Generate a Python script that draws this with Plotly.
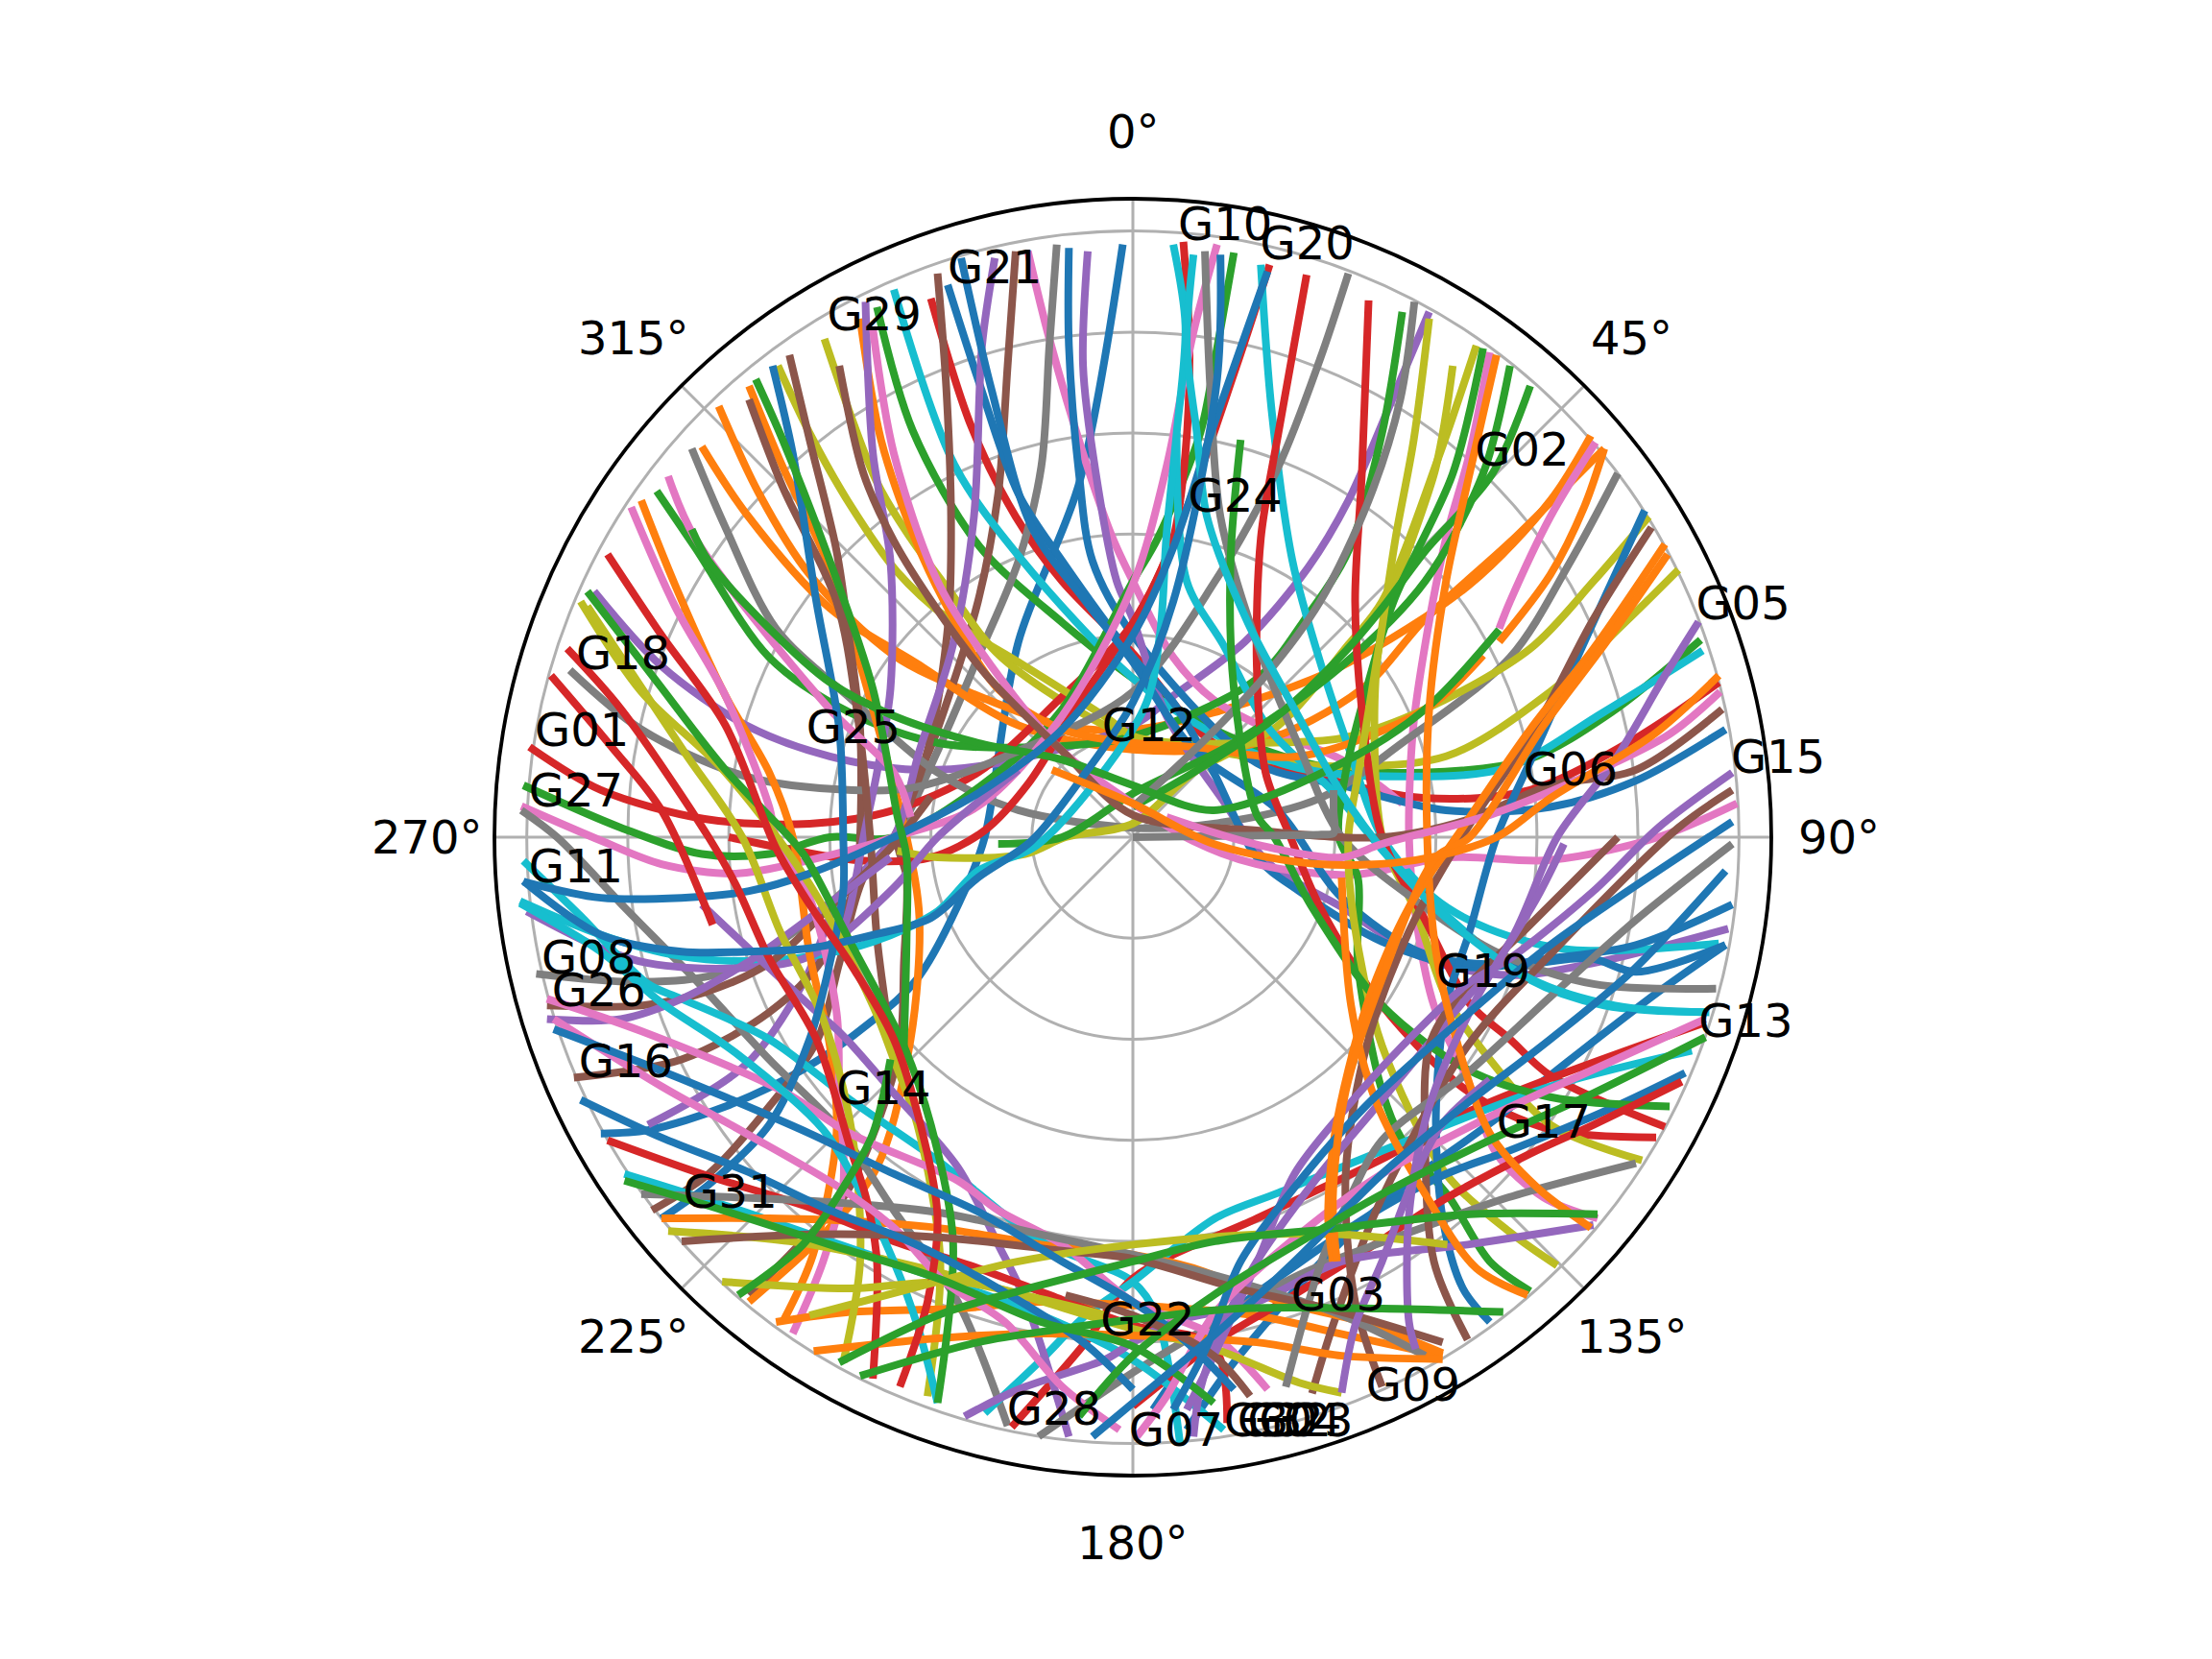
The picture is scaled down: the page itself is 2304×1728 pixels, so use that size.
import math
import plotly.graph_objects as go

# Satellite passes, as (east, north) sky-plane offsets in degrees of zenith angle
BLUE = [
 [(-1.5,88),(-8,52.5),(-17,29),(-22,0),(-25,-8),(-32,-21),(-39,-27.5),(-49,-34.5),(-60.5,-40),(-72,-43.5),(-79,-44)],
 [(-9.5,87.5),(-9.5,73),(-8,54),(-6,41),(0,30),(18.4,11),(31,7.7),(46.5,4),(62,4.5),(74.7,8.4),(88,16)],
 [(-27.5,82),(-23,68),(-17,51),(-10.5,41),(0,26.7),(6,20),(12,9.6),(18.4,-3),(24.7,-8),(37,-15.5),(49.7,-19.3),(62,-18),(74.7,-16),(89,-10)],
 [(-25.5,86),(-21,66.5),(-15,46),(-7,35),(0,26),(9,13),(21.5,4),(31,-9),(43.4,-17.4),(56,-19),(68,-18),(74.7,-20),(88,-16)],
 [(88,-16),(78,-23),(65,-33),(53,-42.5),(40,-52),(28,-63),(15,-78),(8,-88)],
 [(82,-35),(71.6,-40),(56,-46.5),(46.5,-50),(37,-55),(25,-63),(12,-73),(3,-85)],
 [(76,48.5),(68.4,32),(60,13.4),(54,0),(50,-14),(46.5,-25),(45,-41),(46,-56.6),(49,-67),(53,-72)],
 [(-53.5,70),(-50.5,57),(-47,35),(-43.6,16),(-43,0),(-43,-8),(-45,-18.7),(-48,-30),(-54,-42.7),(-63,-51.6),(-70,-56.6)],
 [(-90.5,-6.6),(-79,-9),(-67,-9),(-57,-8),(-48,-5.4),(-35.5,0),(-23,6.5),(-10.5,16),(0,30),(6,43),(11.6,60),(20,84)],
 [(-90.5,-6.5),(-79,-14.5),(-67,-17),(-57,-17),(-48,-16.5),(-38.5,-14.5),(-30,-12),(-23,-6),(-15,-0.5),(-7,9.6),(0,20),(6,35),(12.5,68),(13,86.5)],
 [(-86,-28.5),(-73,-33.5),(-60.5,-38.6),(-48,-44),(-35.5,-50),(-23,-55.6),(-10.5,-63),(0,-69),(8,-75),(15,-82)],
 [(-82,-39),(-70,-44.6),(-57.4,-49.6),(-45,-55.4),(-32.4,-60.4),(-20,-67),(-7.4,-75),(0,-82)],
 [(6,-85),(11,-75.6),(16,-63),(24,-52),(34.5,-40),(50,-26),(62,-16),(72,-9),(89,2.3)],
 [(-6,-89),(0,-84),(12,-74),(24,-63),(37,-50),(49,-40),(62,-30),(74,-20),(88,-5)],
]
ORANGE = [
 [(-61.5,64),(-55.5,51),(-48,39),(-35.5,27),(-23,21),(-10.5,16.6),(0,16),(12,18.5),(31,25.4),(50,37.5),(62,50),(68,59.6)],
 [(-64,58),(-57.4,48),(-45,34),(-32.4,26),(-17,16.6),(0,13),(18.4,14),(34,22),(43.4,32.4),(56,43.8),(65,52.7),(70,57.7)],
 [(-57,67),(-52,55),(-45,40),(-38.6,19),(-33.6,0),(-31.7,-12),(-33,-30),(-38,-49),(-45.5,-58.5),(-57,-69)],
 [(-40.5,77),(-37.4,59),(-32.4,44.4),(-28,35),(-20,22),(-10.5,16),(0,14),(9,13.4),(24.7,12),(43.4,19),(52,27)],
 [(54.4,29),(62,39),(67,49),(70,57.7)],
 [(-73,50),(-68,37.5),(-60.5,21),(-54,9.6),(-50.5,0),(-48,-17.4),(-45,-31),(-44,-44),(-47.5,-62),(-52,-72)],
 [(-53,-72),(-42,-70.5),(-26,-70),(-14,-69),(0,-69.5),(18,-71),(32,-74),(46,-77)],
 [(-70,-56.6),(-54,-56.6),(-42,-57),(-29,-58),(-13.6,-60.5),(0,-62),(9,-64),(22,-69),(34,-72),(46,-76.6)],
 [(-47.4,-76.3),(-29,-74.4),(-13.6,-73.7),(0,-74),(18.4,-75),(31,-77),(46,-77.5)],
 [(58.6,-68),(51,-64),(43.4,-53),(36,-39),(32.4,-25),(31,-6)],
 [(68,-58),(60,-52),(53,-44),(48,-30),(45,-17),(43.7,0),(44,19),(46.5,38),(50,54),(54,71.6)],
 [(79,43.5),(68.4,28),(59,16),(48,0),(41,-10.4),(34.7,-25),(30,-44),(29,-56.6),(29.7,-63)],
 [(79.4,42),(70,28.6),(61,16.6),(50,0),(45,-3),(37,-21),(31.6,-37.7),(29.7,-53.5),(30.3,-63)],
 [(87,24),(77.4,15.3),(62,5.8),(54,0),(42,-3.4),(27.5,-4),(12,-1),(0,5),(-12,10)],
]
GREEN = [
 [(-38,78.7),(-32.7,60.4),(-22.8,43.2),(-10.4,31.8),(0,23.6),(12,16),(27.6,10.6),(43,9.6),(58.6,11.5),(71,18.5),(84.3,29.3)],
 [(-70.7,51.4),(-65,43),(-54,26.7),(-42,18.5),(-29,14),(-13.6,13.4),(0,15),(18.4,23.5),(26,33),(32,42.5),(37,60),(40,78)],
 [(15,86.8),(12.2,71),(10,60),(3.7,44.4),(0,38),(-10.5,19),(-20,9.6),(-35.5,0),(-45,0),(-54,-2.5),(-64,-2.5),(-76,1.4),(-90.5,7.7)],
 [(56,70),(52,54),(43.4,38),(31,25.4),(15,14),(0,6.5),(-10.5,0),(-20,-1)],
 [(52,72.6),(47.5,54),(38.7,35),(34.7,22),(31.6,9.6),(30.6,0),(33.4,-6),(33.4,-18.7),(37,-37.7),(40,-45),(47,-53.5),(53,-63),(59,-67.4)],
 [(59,67),(53.4,54),(43.4,42.5),(37,34),(31,27),(21.5,18),(9,9.6),(0,4.5)],
 [(16,59),(14.5,41),(15,22),(18.4,3.3),(21,0),(26.6,-10.4),(37,-25),(49.7,-34.5),(62,-38.6),(79.7,-40)],
 [(-65.5,45.7),(-63,41),(-54,31),(-45,23),(-35.5,18),(-23,14),(-10.5,11.5),(0,7.7),(12,4),(31,11),(43.4,19),(54.4,30.8)],
 [(-81,36.5),(-71,23.5),(-60.5,10),(-51,0),(-48.6,-3),(-42,-15.5),(-34,-31),(-30,-42.7),(-26.7,-60),(-29,-84)],
 [(-56,68),(-52,59),(-45,41),(-38.6,22),(-35,3.3),(-33.6,-3),(-33.6,-15),(-34,-31)],
 [(-58.6,-68),(-49,-60.5),(-43,-52),(-38.6,-44),(-36,-33)],
 [(-75.5,-51),(-60.5,-55.5),(-45,-60.5),(-29,-65.5),(-13.6,-72),(0,-75.6),(12,-84)],
 [(-43.6,-78),(-29,-71),(-17,-67.4),(0,-63),(12.2,-60),(31,-58),(50,-56),(69,-56)],
 [(-40.5,-80),(-23,-75),(-10.5,-73),(0,-71.6),(15.5,-70),(37,-70),(55,-70.5)],
 [(85,-29.7),(68.4,-38),(53,-45),(37,-53),(25,-60),(12,-68),(0,-77),(-8,-86)],
]
RED = [
 [(-30,80),(-24,61),(-17.4,47.6),(-10.5,38),(0,27.3),(12,14),(27.6,9),(43.4,5.8),(59,7),(74.7,14.7),(87,23)],
 [(-89.6,13.4),(-79,7),(-63.6,2.7),(-48,2),(-35.5,4),(-23,9.6),(-11,20.4),(0,31.8),(7.5,47.6),(15.3,69.7),(20.3,85)],
 [(7.5,88.4),(8.4,73),(7.8,57),(6,44.4),(3.4,38),(0,31.8),(-8,20),(-15.5,8),(-22,1),(-30,-3),(-40,-3.5),(-50,-2),(-60,0)],
 [(25.8,83.5),(21.6,60),(19,44.4),(18.4,25.4),(19.7,9.6),(23.4,0),(27.8,-10.4),(37,-25),(49.7,-37.7),(62,-43.4),(77.7,-44.6)],
 [(35,79.7),(34,54),(33,35),(34,19),(37,0),(43.4,-12.3),(50,-24.7),(56,-30),(62,-35.4),(79,-43)],
 [(85,-27.5),(62,-35.8),(49.7,-40.8),(37,-47.8),(18.4,-56.6),(0,-65.5),(-7,-75),(-18,-87.6)],
 [(81.5,-36.3),(68.4,-42.7),(59,-47),(46.7,-53.5),(34,-61.7),(21.7,-69.3),(12.2,-75),(0,-84.5)],
 [(-78,-45),(-64,-50),(-48,-55),(-35.5,-60),(-23,-64),(-10.5,-68.7),(0,-72.5),(12,-75.6),(14,-87)],
 [(-38.6,-80.4),(-38,-63),(-39.5,-54),(-42,-46),(-47,-30),(-54,-18),(-59,-7),(-63,0),(-76,19),(-84,28)],
 [(-34.6,-81.6),(-30.5,-69),(-29,-56.6),(-30.5,-47),(-35.5,-30),(-42,-18.7),(-48,-10),(-53,-1.6),(-60.5,16.6),(-70,30),(-78,42)],
 [(-86.4,24),(-77.4,13.4),(-70,4),(-62.4,-13)],
]
PURPLE = [
 [(-80,36.5),(-70,25.4),(-57.4,16.6),(-45,12),(-32.4,10),(-20,11),(0,16.6),(6,21),(16.6,29),(26,40),(32,50),(38.4,64.7),(44,78)],
 [(-6.7,87),(-7.4,70),(-5.5,54),(-2.4,38),(0,32.4),(5,18),(13,6),(20.3,-4),(31,-10.4),(43.4,-18),(56,-20.5),(68.4,-18.7),(88.4,-13.6)],
 [(-20.5,86),(-22.4,73),(-23.6,47.6),(-26.7,28.6),(-31.7,12.8),(-35.5,0),(-43.6,-9),(-48.6,-21),(-57.4,-33.7),(-72,-42.7)],
 [(-39.7,79.5),(-38.6,57),(-36,41),(-36,22),(-38,9.6),(-40,0),(-42,-10.4),(-44,-17)],
 [(-90,-11),(-79,-16.5),(-72,-18.7),(-60,-19.5),(-48,-17.7),(-35.5,-7.5),(-29,0),(-17,10)],
 [(-87,-27),(-76,-27),(-67,-24),(-57.4,-18.7),(-48,-12),(-36,-3)],
 [(-64,-10),(-55.5,-18),(-48,-25),(-43,-29.5),(-35.5,-38),(-26,-49),(-20,-60.5),(-16,-68.7),(-9.5,-89)],
 [(-25,-86),(-17,-82),(-4,-77.5),(0,-75),(6,-72),(18.4,-69),(31,-63),(49.7,-60.5),(68.4,-57.6)],
 [(84,32),(79,24),(71.6,11.5),(63,0),(56,-15.5),(46.5,-27.5),(37,-39),(27.8,-50),(18.4,-63),(13.4,-72.5),(10,-82),(9,-89)],
 [(89,9.6),(78,1.4),(68.4,-8),(56,-18),(49.7,-21.8),(40,-31),(31,-41),(24,-50),(18.5,-63),(12,-77),(8,-85)],
 [(42,-76),(41,-72),(41,-56),(44,-40),(51,-24),(60,-9),(64,-1)],
 [(31,-82.5),(33,-72.5),(37,-63),(42,-50),(46,-42.5),(53,-36)],
]
BROWN = [
 [(-17.4,87),(-18.6,70),(-20,51),(-23,35),(-29,16),(-35,0),(-33.6,-6),(-34,-18.7),(-34.6,-31),(-38,-42.7),(-43,-53.5),(-51,-62),(-57,-68)],
 [(-29,83.7),(-27.7,66.6),(-27,47.6),(-27.4,32),(-30.5,12.8),(-35.5,0),(-40,-6),(-43.6,-18.7),(-46.8,-30),(-54,-40),(-63,-50),(-71.4,-55.4)],
 [(-51,71.6),(-48,59),(-44,42.5),(-42,28.6),(-40.5,16),(-40.5,0),(-41,-6),(-46,-18),(-54,-26),(-67,-33),(-83,-35.7)],
 [(-57,65),(-52,52),(-44,35),(-41,19),(-39,0),(-38,-15),(-36,-30)],
 [(-87,-25),(-73,-25),(-63.5,-23),(-54,-18.7),(-45,-10.4),(-36,-1.6),(-30,6)],
 [(-43.6,70),(-40,54),(-35.5,44),(-29,33.7),(-21.7,24),(-10.5,12.8),(0,3.3),(18.4,1),(37,0),(49.7,2.6),(62,7.7),(74.7,10),(87.5,19)],
 [(89,7),(81,1.4),(62,-17.4),(49.7,-31),(37,-53.5),(29.7,-72.5),(26.6,-82.6)],
 [(77,46),(68.4,32.4),(60,16.6),(49.7,1.4),(41,-14),(34.7,-31),(31.6,-50),(33,-69),(37,-81.6)],
 [(72,0),(59,-13),(48,-24),(44,-31),(43.4,-45),(44.7,-63),(49.7,-74.6)],
 [(-67,-60),(-48,-59),(-29,-59.4),(-10.5,-61.4),(0,-62.6),(15.5,-67),(31,-70.5),(46,-75)],
 [(-10,-68),(0,-71),(12,-77),(17.4,-83)],
]
PINK = [
 [(-15.6,87),(-12.4,74),(-7.4,57),(-3,44.4),(0,38),(6,26.7),(12,20.4),(21.6,15.3),(31,11.5),(40,5)],
 [(53,72),(50,57),(46.5,44.4),(43.4,28.6),(41.6,16),(41,0),(42,-11.7),(44.7,-25),(49.7,-36),(54,-47),(61,-53.5),(69,-56.6)],
 [(89.7,5),(78,0),(62,-3.4),(46.7,-3),(32.4,-5.6),(18.4,-4),(9,-0.6),(0,5)],
 [(-90.8,4.6),(-79,-0.5),(-70,-4),(-59,-5.4),(-48,-3.4),(-35.5,0),(-23,4.6),(-10.5,18),(0,37.5),(5,55),(9,75),(12.5,88)],
 [(-38.6,75.4),(-35.5,57),(-29,38),(-21,25.4),(-10.5,12.8),(0,5)],
 [(-74.5,49),(-68,34.3),(-60.5,21),(-54,4.5),(-53,0),(-48,-9),(-44,-26),(-43.6,-37.7),(-43,-51.6),(-46,-63),(-50.5,-73.7)],
 [(-69,53.6),(-65,44.4),(-45,19),(-35.5,9.6),(-33,3)],
 [(-87,-24),(-73,-28.8),(-52,-37.7),(-42,-44),(-26,-51),(-20,-55.4),(-10.5,-60.5),(0,-69),(12,-74),(20,-82)],
 [(-86,-27),(-70,-37),(-57.4,-44),(-43.6,-52),(-35.5,-58),(-28,-66),(-19,-72),(-10.5,-81.6),(-2,-88)],
 [(85,-27),(68.4,-34.5),(53,-41.5),(37,-50),(24.7,-59),(12.2,-70.6),(5,-83),(0.6,-89)],
 [(68.7,58.6),(62,47.6),(56,35),(54.4,31)],
 [(87.2,21.6),(79.7,15.3),(68.4,9.6),(53,3.3),(37,-1),(31,-3),(18,-1),(5,3)],
]
GREY = [
 [(-11.3,88),(-12.4,73),(-13.6,55),(-17,41),(-23,26.7),(-29,12.8),(-35.5,0),(-48,-12.3),(-60.5,-20),(-73,-21.5),(-88.6,-20.3)],
 [(-65.5,57.7),(-60.5,46),(-53,31),(-41.7,20.4),(-29,9.6),(-17,4),(0,1.4),(12,2),(27.8,5.8),(40,14),(56,26.7),(65,41),(72,54)],
 [(-83.6,24.8),(-73,16),(-57.4,9),(-41.7,7),(-32.4,7.4),(-17,12.8),(0,21.6),(12.2,38),(21.6,55),(27.8,71),(32,83.7)],
 [(-90.8,4),(-85.5,0),(-75.5,-10.4),(-65.5,-20.6),(-54,-33),(-43.6,-43.4),(-35.5,-55.4),(-26,-69),(-18.6,-87.4)],
 [(10.7,87),(11.5,66.6),(13,47.6),(18,30),(24.7,13.4),(31,0),(43.4,-10.4),(54.7,-17.4),(68.4,-21.8),(86.6,-22.5)],
 [(41.8,79.5),(39.7,65),(35,50),(27.8,35),(19.7,24),(9,12.8),(0,4.5)],
 [(74.7,-48.4),(55.7,-53.5),(43,-58),(24.7,-65),(9,-74),(0,-79.5),(-14,-89)],
 [(-73,-53),(-48,-54),(-29,-55.7),(-13.6,-59),(0,-62),(15.5,-66),(31,-71),(43.4,-77)],
 [(89,-1),(74.7,-12.3),(62,-23.7),(49.7,-35),(37,-45),(32,-54),(28,-63),(22.7,-81.6)],
 [(0,0),(15,0.2),(28,0.4),(29.8,0.6),(29.8,4),(29.8,7)],
]
OLIVE = [
 [(-45.8,74),(-38,52.7),(-33,44.4),(-27.4,36.8),(-19.5,26.7),(0,14.7),(12,12.8),(27.6,10.6),(46.5,12),(62,21.6),(73,31.8),(81,39.7)],
 [(-52.7,70),(-48,60),(-41.7,48.9),(-35,39.4),(-27.4,32.4),(-17,26),(-4,17.8),(0,15),(6,14),(18.4,14),(31,14.7),(43.4,19),(59,28),(68.4,38),(76.6,47.6)],
 [(51,73),(45.6,57),(37,35),(32,28.6),(21.6,16.6),(9,9.6),(0,2),(-10,0),(-16,-2.5),(-29,-3),(-35,-2)],
 [(47.5,70),(45,55),(36.6,28.6),(36,9.6),(37,0),(38,-3),(42,-11),(46.5,-23.7),(53,-33),(62,-42.7),(75.6,-48)],
 [(44,77),(41.7,59),(39,44.4),(36.6,28.6),(33.5,9.6),(32,0),(32.8,-12.3),(37,-31),(46.5,-50),(55.8,-58.5),(63,-63.6)],
 [(-82,35),(-73,21.6),(-60.5,9.6),(-48,-7),(-38.6,-25),(-35.5,-33),(-32,-42.7),(-28.6,-63),(-30.5,-83)],
 [(-81,34.3),(-66.7,12.8),(-58,0),(-52.4,-14),(-46,-27),(-41.7,-44),(-40.5,-63),(-43,-78)],
 [(-69,-58.5),(-51,-60),(-35.5,-63),(-20,-67),(0,-73),(12.2,-76),(24.7,-81),(31,-82.5)],
 [(-61,-66),(-42,-67),(-26,-66),(-13.6,-68.6),(-4,-71)],
 [(-48,-71),(-29,-66),(-17,-63),(0,-60.5),(18.4,-59),(31,-59),(46.7,-60.5)],
]
CYAN = [
 [(-35.5,81.3),(-26.5,55.3),(-16.6,41.3),(0,23.6),(12.1,15.3),(24.5,10.3),(40,9),(55.5,10.3),(69.8,18.5),(84.6,27.7)],
 [(19,85),(20.6,63.4),(23.7,41),(28,25.4),(32,13.4),(37,0),(44.7,-9),(52.8,-13.6),(65,-16.7),(87,-15.8)],
 [(6.5,60),(8,38),(13.4,28.6),(20.3,16),(30,6.5),(38,-3),(47,-12),(58.6,-21),(70,-25),(85.6,-26)],
 [(6,88),(7.8,76),(6.5,60),(5,45),(4,30),(1.6,19),(-14,-1),(-23,-5),(-29,-11),(-38.5,-15.5),(-48,-17.7),(-57.4,-18.4),(-67,-17.7),(-79,-14.5),(-91,-9.5)],
 [(-90.5,-3.5),(-82,-11.7),(-72,-21.8),(-67,-24),(-54,-30),(-42,-39),(-29,-48),(-13.6,-60),(0,-66),(3.5,-71),(7,-90)],
 [(83,-31.7),(62,-37),(43.4,-44),(21.6,-52.8),(12.2,-56.6),(0,-66),(-7,-71),(-14,-78),(-22,-85.5)],
 [(-75.5,-50),(-60.5,-54.7),(-45,-60),(-29,-65.5),(-13.6,-71),(0,-77.6),(13.5,-88)],
 [(-29,-84),(-32,-72.5),(-35.5,-63),(-40,-53.5),(-46,-43.4),(-59,-32),(-70,-24.6),(-79,-17),(-91,-9.8)],
 [(85.3,-26),(71.6,-25),(59,-21),(46.5,-12),(38,-3),(31,6.5),(24,19),(17,32),(11,47.6),(9.5,60),(8,73),(9,86.5)],
]
LABEL_NAMES = ["G10","G20","G21","G29","G24","G02","G05","G18","G25","G12","G01","G06","G15","G27","G11","G08",
               "G26","G19","G13","G16","G14","G17","G31","G03","G22","G09","G28","G07","G30","G32","G04","G23"]
LABEL_EAST = [6.7,18.9,-27.5,-45.4,8.2,50.8,83.6,-82.7,-48.5,-4.6,-88.8,58,88.8,-89.7,-89.7,-87.8,
              -86.3,45,84,-82.3,-44,54,-66.8,23.5,-4.8,34.6,-18.7,-0.6,13.5,15.5,17,18.7]
LABEL_NORTH = [87,84.1,80.6,73.6,46.6,53.4,30.6,23.2,12.3,12.5,11.8,6,7.8,2.8,-8.4,-22,
               -26.8,-23.9,-31.4,-37.4,-41.4,-46.4,-56.8,-72,-75.7,-85.4,-89,-92.1,-90.7,-90.7,-90.7,-90.7]
ANGLE_TICKS = [0,45,90,135,180,225,270,315]
RING_TICKS = [15,30,45,60,75,90]

GROUPS = [(BLUE,"#1f77b4"),(ORANGE,"#ff7f0e"),(GREEN,"#2ca02c"),(RED,"#d62728"),(PURPLE,"#9467bd"),
          (BROWN,"#8c564b"),(PINK,"#e377c2"),(GREY,"#7f7f7f"),(OLIVE,"#bcbd22"),(CYAN,"#17becf")]

def to_polar(east, north):
    return math.hypot(east, north), math.degrees(math.atan2(east, north)) % 360

fig = go.Figure()
for i in range(max(len(g[0]) for g in GROUPS)):
    for tracks, colour in GROUPS:
        if i < len(tracks):
            pol = [to_polar(e, n) for e, n in tracks[i]]
            fig.add_trace(go.Scatterpolar(r=[p[0] for p in pol], theta=[p[1] for p in pol], mode="lines",
                                          line=dict(color=colour, width=8, shape="spline", smoothing=0.9),
                                          hoverinfo="skip", showlegend=False))
lab = [to_polar(e, n) for e, n in zip(LABEL_EAST, LABEL_NORTH)]
fig.add_trace(go.Scatterpolar(r=[p[0] for p in lab], theta=[p[1] for p in lab], mode="text", text=LABEL_NAMES,
                              textposition="top right", cliponaxis=False,
                              textfont=dict(family="DejaVu Sans", size=48, color="black"), showlegend=False))
CX, CY, HALF, TICK_RADIUS = 1180, 872, 665, 735
fig.update_layout(
    width=2304, height=1728, margin=dict(l=0, r=0, t=0, b=0), paper_bgcolor="white", showlegend=False,
    font=dict(family="DejaVu Sans", size=48, color="black"),
    polar=dict(
        domain=dict(x=[(CX-HALF)/2304, (CX+HALF)/2304], y=[(1728-CY-HALF)/1728, (1728-CY+HALF)/1728]),
        bgcolor="white",
        radialaxis=dict(range=[0, 94.8], tickvals=RING_TICKS, showticklabels=False, ticks="", showline=False,
                        gridcolor="#b0b0b0", gridwidth=3.2),
        angularaxis=dict(rotation=90, direction="clockwise", tickvals=ANGLE_TICKS, showticklabels=False, ticks="",
                         gridcolor="#b0b0b0", gridwidth=3.2, linecolor="black", linewidth=3.8),
    ),
)
for a in ANGLE_TICKS:
    fig.add_annotation(xref="paper", yref="paper", showarrow=False, text=f"{a}°", xanchor="center", yanchor="middle",
                       x=(CX + TICK_RADIUS*math.sin(math.radians(a)))/2304,
                       y=1 - (CY - TICK_RADIUS*math.cos(math.radians(a)))/1728,
                       font=dict(family="DejaVu Sans", size=48, color="black"))
fig.write_html("out.html", config={"displayModeBar": False}, post_script="document.body.style.margin='0';")
